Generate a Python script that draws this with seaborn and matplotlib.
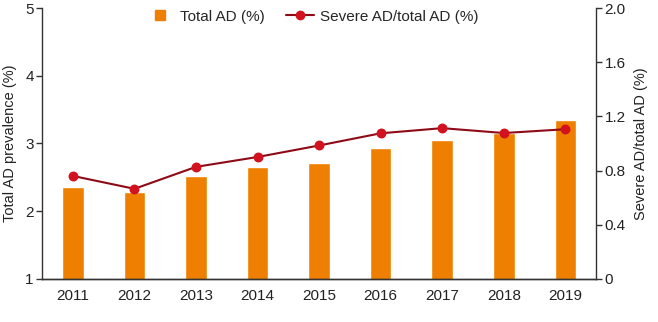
import matplotlib
matplotlib.use("Agg")
import matplotlib.pyplot as plt
import seaborn as sns
import pandas as pd
from matplotlib.lines import Line2D

years = ["2011", "2012", "2013", "2014", "2015", "2016", "2017", "2018", "2019"]
total_ad = [2.35, 2.28, 2.52, 2.65, 2.71, 2.93, 3.05, 3.15, 3.35]
severe_ratio = [0.76, 0.665, 0.827, 0.90, 0.985, 1.075, 1.113, 1.077, 1.105]
left_ticks = [1, 2, 3, 4, 5]
right_ticks = [0, 0.4, 0.8, 1.2, 1.6, 2.0]
right_tick_labels = ["0", "0.4", "0.8", "1.2", "1.6", "2.0"]

sns.set_theme(style="white")
plt.rcParams["font.family"] = ["Liberation Sans", "DejaVu Sans"]

df = pd.DataFrame({"year": years, "total": total_ad, "severe": severe_ratio})

bar_color = "#EF7F00"
line_color = "#8E0A16"
marker_color = "#D2121E"

fig = plt.figure(figsize=(6.58, 3.22), dpi=100)
ax = fig.add_axes([0.064, 0.134, 0.842, 0.841])
sns.barplot(data=df, x="year", y="total", color=bar_color, width=0.35,
            saturation=1, ax=ax, bottom=0)
ax.set_ylim(1, 5)
ax.set_yticks(left_ticks)
ax.set_xlim(-0.5, 8.5)
ax.set_xlabel("")
ax.set_ylabel("Total AD prevalence (%)", fontsize=10.5, color="#222222", labelpad=6)

ax2 = ax.twinx()
sns.pointplot(data=df, x="year", y="severe", color=line_color, markers="o",
              linestyles="-", ax=ax2, markersize=6, linewidth=1.5)
for ln in ax2.lines:
    ln.set_markerfacecolor(marker_color)
    ln.set_markeredgecolor(marker_color)
ax2.set_ylim(0, 2.0)
ax2.set_yticks(right_ticks)
ax2.set_yticklabels(right_tick_labels)
ax2.set_xlim(-0.5, 8.5)
ax2.set_ylabel("Severe AD/total AD (%)", fontsize=10.5, color="#222222", labelpad=6)
ax2.set_xlabel("")

for a in (ax, ax2):
    a.spines["top"].set_visible(False)
    for s in ("left", "right", "bottom"):
        a.spines[s].set_color("#333333")
        a.spines[s].set_linewidth(1.0)
    a.tick_params(axis="y", direction="out", length=4, width=1, color="#333333",
                  labelsize=11, labelcolor="#222222", pad=2)
    a.tick_params(axis="x", length=0, labelsize=11, labelcolor="#222222", pad=7)
ax.spines["right"].set_visible(False)
ax2.spines["left"].set_visible(False)
ax.tick_params(axis="y", left=True, right=False)
ax2.tick_params(axis="y", left=False, right=True)

handles = [
    Line2D([], [], marker="s", color="none", markerfacecolor=bar_color,
           markeredgecolor=bar_color, markersize=7),
    Line2D([], [], color=line_color, marker="o", markerfacecolor=marker_color,
           markeredgecolor=marker_color, markersize=6, linewidth=1.5),
]
fig.legend(handles, ["Total AD (%)", "Severe AD/total AD (%)"], loc="center",
           bbox_to_anchor=(0.475, 0.948), ncol=2, frameon=False,
           fontsize=11, handlelength=1.8, handletextpad=0.4, columnspacing=1.4)

fig.savefig("out.png", dpi=100)
